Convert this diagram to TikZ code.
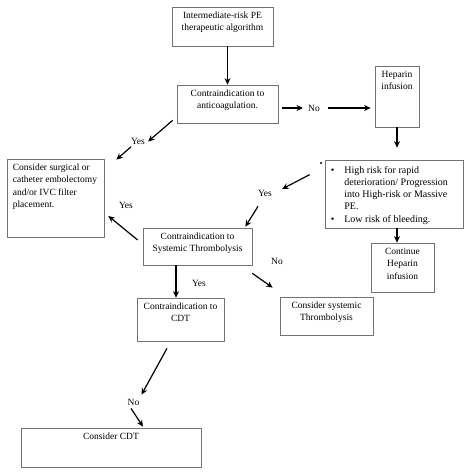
\documentclass[tikz,border=0pt]{standalone}
\usepackage{fontspec}
\setmainfont{Liberation Serif}
\usetikzlibrary{arrows.meta}
\tikzset{
  box/.style={draw=black!55, line width=0.7pt, inner sep=0pt},
  boxtext/.style={anchor=north, align=center, inner sep=0pt, yshift=-5pt, font=\fontsize{9.5}{12.5}\selectfont},
  answer/.style={inner sep=2pt, font=\fontsize{9.5}{12.5}\selectfont},
  arr/.style={-{Stealth[length=6.5pt,width=6pt]}, line width=1.2pt}
}
\begin{document}
\begin{tikzpicture}[x=1pt, y=-1pt]
    \useasboundingbox[fill=white] (0,0) rectangle (474,474);
    % boxes
    \node[box, minimum width=101pt, minimum height=39pt] (intro) at (222.5,26.5) {};
    \node[box, minimum width=101pt, minimum height=38pt] (anticoag) at (227.5,104) {};
    \node[box, minimum width=44pt, minimum height=61pt] (heparin) at (397,96.5) {};
    \node[box, minimum width=138pt, minimum height=68pt] (highrisk) at (394,194) {};
    \node[box, minimum width=63pt, minimum height=49pt] (contheparin) at (402.5,267.5) {};
    \node[box, minimum width=97pt, minimum height=78pt] (surgical) at (55.5,198) {};
    \node[box, minimum width=109pt, minimum height=37pt] (systemic) at (197.5,246.5) {};
    \node[box, minimum width=87pt, minimum height=43pt] (cdtq) at (180.5,319.5) {};
    \node[box, minimum width=93pt, minimum height=38pt] (sysconsider) at (326.5,316) {};
    \node[box, minimum width=180pt, minimum height=39pt] (cdt) at (111,447.5) {};
    % texts
    \node[boxtext] (intro text) at (intro.north) {Intermediate-risk PE\\therapeutic algorithm};
    \node[boxtext] (anticoag text) at (anticoag.north) {Contraindication to\\anticoagulation.};
    \node[boxtext] (heparin text) at (heparin.north) {Heparin\\infusion};
    \node[boxtext] (contheparin text) at (contheparin.north) {Continue\\Heparin\\infusion};
    \node[boxtext, anchor=north west, align=left] (surgical text) at ([xshift=6pt]surgical.north west) {Consider surgical or\\catheter embolectomy\\and/or IVC filter\\placement.};
    \node[boxtext] (systemic text) at (systemic.north) {Contraindication to\\Systemic Thrombolysis};
    \node[boxtext] (cdtq text) at (cdtq.north) {Contraindication to\\CDT};
    \node[boxtext] (sysconsider text) at (sysconsider.north) {Consider systemic\\Thrombolysis};
    \node[boxtext] (cdt text) at (cdt.north) {Consider CDT};
    \node[anchor=north west, inner sep=0pt, font=\fontsize{10}{12.2}\selectfont] (highrisk text) at ([xshift=6pt,yshift=-5pt]highrisk.north west) {\begin{tabular}{@{}l@{\hspace{10pt}}l@{}}
      \textbullet & High risk for rapid\\
                  & deterioration/ Progression\\
                  & into High-risk or Massive\\
                  & PE.\\
      \textbullet & Low risk of bleeding.
    \end{tabular}};
    \node[circle, fill=black, inner sep=0.8pt] (stray dot) at (321,163) {};
    % answers
    \node[answer] (no1) at (314,108) {No};
    \node[answer] (yes1) at (138,141.5) {Yes};
    \node[answer] (yes2) at (265,193) {Yes};
    \node[answer] (yes3) at (126,205) {Yes};
    \node[answer] (yes4) at (199,283) {Yes};
    \node[answer] (no2) at (277,261) {No};
    \node[answer] (no3) at (133.5,402) {No};
    % arrows
    \draw[arr] (anticoag.north |- intro.south) -- (anticoag.north);
    \draw[arr, shorten <=4pt, shorten >=3pt] (anticoag.east |- no1.west) -- (no1.west);
    \draw[arr, shorten <=6pt, shorten >=4pt] (no1.east) -- (heparin.west |- no1.east);
    \draw[arr, shorten >=12pt] (heparin.south) -- (heparin.south |- highrisk.north);
    \draw[arr] ([xshift=-15pt,yshift=-15pt]highrisk.north west) -- ([xshift=8pt,yshift=4pt]yes2.east);
    \draw[arr] ([xshift=-7pt,yshift=-8pt]yes2.south) -- ([xshift=-7pt,yshift=1pt]systemic.north east);
    \draw[arr] ([xshift=-5pt,yshift=6.5pt]systemic.west) -- ([xshift=4pt,yshift=-18pt]surgical.east);
    \draw[arr] ([xshift=-4pt,yshift=3pt]anticoag.south west) -- ([xshift=1pt]yes1.east);
    \draw[arr] ([xshift=2pt]yes1.south west) -- ([xshift=12pt,yshift=-1pt]surgical.north east);
    \draw[arr] ([xshift=-4.5pt]cdtq.north |- systemic.south) -- ([xshift=-4.5pt]cdtq.north);
    \draw[arr] ([yshift=-8pt]systemic.south east) -- ([xshift=-7pt,yshift=9pt]sysconsider.north west);
    \draw[arr] ([xshift=-13.5pt,yshift=-7pt]cdtq.south) -- ([yshift=2pt]no3.north east);
    \draw[arr] ([xshift=-2.5pt,yshift=-1pt]no3.south) -- ([xshift=32pt,yshift=1pt]cdt.north);
    \draw[arr] (heparin.south |- highrisk.south) -- (heparin.south |- contheparin.north);
\end{tikzpicture}
\end{document}
